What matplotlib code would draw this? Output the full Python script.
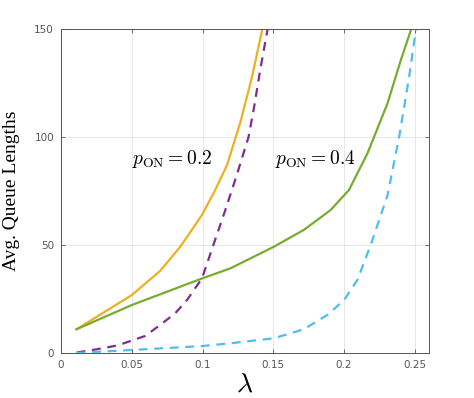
import matplotlib
matplotlib.use('Agg')
import matplotlib.pyplot as plt

plt.rcParams['mathtext.fontset'] = 'cm'

# lambda values and queue lengths
lam_orange = [0.011, 0.03, 0.05, 0.07, 0.0843, 0.0996, 0.109, 0.1173, 0.1268, 0.135, 0.1421, 0.145]
q_orange = [11, 18.7, 26.8, 38, 49.2, 63.9, 75.5, 87, 107, 128, 149.5, 158]

lam_green = [0.011, 0.05, 0.0996, 0.1197, 0.1504, 0.1716, 0.1905, 0.2035, 0.2165, 0.2307, 0.2401, 0.2472, 0.25]
q_green = [11, 22.2, 34.5, 39.2, 49.2, 57, 66.2, 75.5, 92.4, 115.6, 135.6, 149.5, 158]

lam_purple = [0.011, 0.025, 0.04, 0.0595, 0.0701, 0.0807, 0.089, 0.0996, 0.1079, 0.116, 0.124, 0.1325, 0.1362, 0.141, 0.1457, 0.148]
q_purple = [0.2, 1.7, 3.5, 7.9, 13, 18.4, 24.5, 34.5, 50.5, 66, 82, 100, 113, 132, 149, 156]

lam_blue = [0.011, 0.05, 0.0996, 0.1197, 0.1504, 0.1716, 0.1882, 0.2, 0.2094, 0.2188, 0.2307, 0.2389, 0.246, 0.2507, 0.252]
q_blue = [0.0, 1.4, 3.2, 4.5, 6.8, 11, 17.6, 24.5, 33.8, 50, 73, 100, 128, 149.5, 156]

x_ticks = [0, 0.05, 0.1, 0.15, 0.2, 0.25]
x_labels = ['0', '0.05', '0.1', '0.15', '0.2', '0.25']
y_ticks = [0, 50, 100, 150]

fig = plt.figure(figsize=(4.74, 3.98), dpi=100)
ax = fig.add_axes([61 / 474, 45 / 398, 368 / 474, 324 / 398])

lw = 1.6
ax.plot(lam_orange, q_orange, color='#EDB120', lw=lw)
ax.plot(lam_purple, q_purple, color='#7E2F8E', lw=lw, ls=(0, (4, 3)))
ax.plot(lam_green, q_green, color='#77AC30', lw=lw)
ax.plot(lam_blue, q_blue, color='#4DBEEE', lw=lw, ls=(0, (4, 3)))

ax.set_xlim(0, 0.26)
ax.set_ylim(0, 150)
ax.set_xticks(x_ticks)
ax.set_xticklabels(x_labels)
ax.set_yticks(y_ticks)
ax.grid(True, color='#e3e3e3', lw=0.6)
ax.set_axisbelow(True)
ax.tick_params(direction='in', length=3, width=0.6, labelsize=7.5, pad=5,
               colors='#555555', top=True, right=True)
for s in ax.spines.values():
    s.set_color('#555555')
    s.set_linewidth(0.7)

ax.set_xlabel(r'$\lambda$', fontsize=20, labelpad=0)
ax.set_ylabel('Avg. Queue Lengths', fontsize=14, family='Liberation Serif', labelpad=10)

ax.text(0.05, 90, r'$p_{\mathrm{ON}} = 0.2$', fontsize=14, va='center', ha='left')
ax.text(0.151, 90, r'$p_{\mathrm{ON}} = 0.4$', fontsize=14, va='center', ha='left')

fig.savefig('out.png', dpi=100)
